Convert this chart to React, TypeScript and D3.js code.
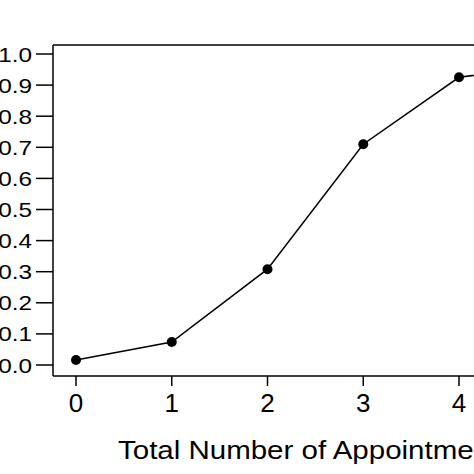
import React from "react";
import * as d3 from "d3";

const xValues = [0, 1, 2, 3, 4, 5];
const yValues = [0.016, 0.074, 0.308, 0.71, 0.925, 0.965];
const yTicks = [0, 0.1, 0.2, 0.3, 0.4, 0.5, 0.6, 0.7, 0.8, 0.9, 1.0];
const xTicks = [0, 1, 2, 3, 4];
const xTitle = "Total Number of Appointments";

export default function App() {
  const W = 474, H = 474;
  const x = d3.scaleLinear().domain([0, 4]).range([76, 459]);
  const y = d3.scaleLinear().domain([0, 1]).range([365, 54]);
  const left = 53, top = 45, bottom = 376;
  const sx = 1.16;
  const line = d3.line<number>().x((_, i) => x(xValues[i])).y((d) => y(d));
  const font = "'Liberation Sans', Arial, sans-serif";
  return (
    <svg width={W} height={H} style={{ position: "absolute", left: 0, top: 0, background: "#fff" }} fontFamily={font}>
      <rect x={0} y={0} width={W} height={H} fill="#fff" />
      <line x1={left} y1={top} x2={W} y2={top} stroke="#000" strokeWidth={1.5} />
      <line x1={left} y1={top} x2={left} y2={bottom} stroke="#000" strokeWidth={1.5} />
      <line x1={left} y1={bottom} x2={W} y2={bottom} stroke="#000" strokeWidth={1.5} />
      {yTicks.map((t) => (
        <g key={t}>
          <line x1={36} x2={left} y1={y(t)} y2={y(t)} stroke="#000" strokeWidth={1.5} />
          <text transform={`translate(32,${y(t) + 7.5}) scale(${sx},1)`} textAnchor="end" fontSize={21} fill="#000">{t.toFixed(1)}</text>
        </g>
      ))}
      {xTicks.map((t) => (
        <g key={t}>
          <line x1={x(t)} x2={x(t)} y1={bottom} y2={386} stroke="#000" strokeWidth={1.5} />
          <text x={x(t)} y={412} textAnchor="middle" fontSize={26} fill="#000">{t}</text>
        </g>
      ))}
      <path d={line(yValues) || ""} fill="none" stroke="#000" strokeWidth={1.5} />
      {yValues.map((v, i) => (
        <circle key={i} cx={x(xValues[i])} cy={y(v)} r={5} fill="#000" />
      ))}
      <text transform={`translate(118,459) scale(1.18,1)`} fontSize={25} fill="#000">{xTitle}</text>
    </svg>
  );
}
